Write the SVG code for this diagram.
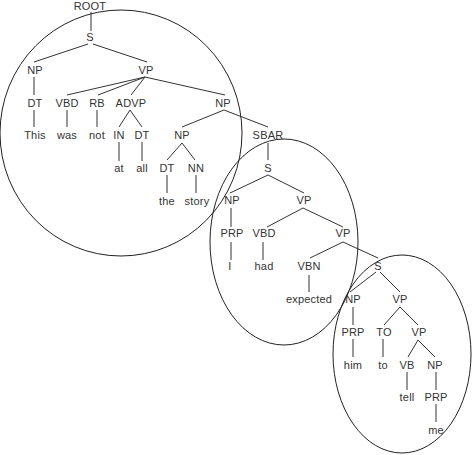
<svg xmlns="http://www.w3.org/2000/svg" width="474" height="455" viewBox="0 0 474 455">
<style>
text{font-family:"Liberation Sans",Arial,sans-serif;font-size:11px;fill:#333;text-anchor:middle;letter-spacing:0.2px}
.c line{stroke:#333;stroke-width:1}
.r ellipse{fill:none;stroke:#222;stroke-width:1}
</style>
<rect width="474" height="455" fill="#fff"/>
<g class="r" id="regions">
<ellipse cx="121" cy="133" rx="121" ry="123"/>
<ellipse cx="284" cy="242" rx="74" ry="103"/>
<ellipse cx="402" cy="354" rx="69" ry="99"/>
</g>
<g class="c" id="connectors">
<line x1="91" y1="12" x2="91" y2="31"/>
<line x1="88" y1="44" x2="34" y2="62"/>
<line x1="93" y1="44" x2="147" y2="62"/>
<line x1="34" y1="77" x2="34" y2="95"/>
<line x1="145" y1="77" x2="67" y2="95"/>
<line x1="145" y1="77" x2="98" y2="95"/>
<line x1="145" y1="77" x2="131" y2="95"/>
<line x1="145" y1="77" x2="225" y2="95"/>
<line x1="34" y1="110" x2="34" y2="127"/>
<line x1="67" y1="110" x2="67" y2="127"/>
<line x1="97" y1="110" x2="97" y2="127"/>
<line x1="130" y1="110" x2="119" y2="127"/>
<line x1="130" y1="110" x2="142" y2="127"/>
<line x1="224" y1="110" x2="182" y2="127"/>
<line x1="224" y1="110" x2="268" y2="127"/>
<line x1="119" y1="142" x2="119" y2="161"/>
<line x1="142" y1="142" x2="142" y2="161"/>
<line x1="182" y1="143" x2="167" y2="160"/>
<line x1="182" y1="143" x2="195" y2="160"/>
<line x1="268" y1="143" x2="268" y2="160"/>
<line x1="167" y1="175" x2="167" y2="193"/>
<line x1="196" y1="175" x2="196" y2="193"/>
<line x1="268" y1="175" x2="230" y2="193"/>
<line x1="268" y1="175" x2="304" y2="193"/>
<line x1="231" y1="208" x2="231" y2="227"/>
<line x1="303" y1="208" x2="267" y2="227"/>
<line x1="303" y1="208" x2="343" y2="227"/>
<line x1="231" y1="242" x2="231" y2="260"/>
<line x1="263" y1="242" x2="263" y2="260"/>
<line x1="343" y1="242" x2="310" y2="258"/>
<line x1="343" y1="242" x2="378" y2="258"/>
<line x1="309" y1="275" x2="309" y2="292"/>
<line x1="376" y1="272" x2="350" y2="292"/>
<line x1="380" y1="272" x2="400" y2="292"/>
<line x1="353" y1="307" x2="353" y2="325"/>
<line x1="400" y1="307" x2="384" y2="325"/>
<line x1="400" y1="307" x2="418" y2="325"/>
<line x1="353" y1="339" x2="353" y2="357"/>
<line x1="383" y1="339" x2="383" y2="357"/>
<line x1="418" y1="340" x2="408" y2="357"/>
<line x1="418" y1="340" x2="435" y2="357"/>
<line x1="407" y1="372" x2="407" y2="390"/>
<line x1="436" y1="372" x2="436" y2="390"/>
<line x1="436" y1="404" x2="436" y2="422"/>
</g>
<g id="n_root"><text x="90" y="9.5">ROOT</text></g>
<g id="n_s1"><text x="90" y="41">S</text></g>
<g id="n_np1"><text x="35" y="74">NP</text></g>
<g id="n_vp1"><text x="146" y="74">VP</text></g>
<g id="n_dt1"><text x="35" y="107">DT</text></g>
<g id="n_vbd1"><text x="67" y="107">VBD</text></g>
<g id="n_rb"><text x="97" y="107">RB</text></g>
<g id="n_advp"><text x="131" y="107">ADVP</text></g>
<g id="n_np2"><text x="223" y="107">NP</text></g>
<g id="w_this"><text x="35" y="139">This</text></g>
<g id="w_was"><text x="67" y="139">was</text></g>
<g id="w_not"><text x="97" y="139">not</text></g>
<g id="n_in"><text x="119" y="139">IN</text></g>
<g id="n_dt2"><text x="142" y="139">DT</text></g>
<g id="n_np3"><text x="182" y="139">NP</text></g>
<g id="n_sbar"><text x="268" y="139">SBAR</text></g>
<g id="w_at"><text x="119" y="172">at</text></g>
<g id="w_all"><text x="142" y="172">all</text></g>
<g id="n_dt3"><text x="167" y="172">DT</text></g>
<g id="n_nn"><text x="196" y="172">NN</text></g>
<g id="n_s2"><text x="268" y="172">S</text></g>
<g id="w_the"><text x="167" y="205">the</text></g>
<g id="w_story"><text x="197" y="205">story</text></g>
<g id="n_np4"><text x="232" y="204">NP</text></g>
<g id="n_vp2"><text x="304" y="204">VP</text></g>
<g id="n_prp1"><text x="232" y="237">PRP</text></g>
<g id="n_vbd2"><text x="264" y="237">VBD</text></g>
<g id="n_vp3"><text x="343" y="237">VP</text></g>
<g id="w_i"><text x="230" y="270">I</text></g>
<g id="w_had"><text x="264" y="270">had</text></g>
<g id="n_vbn"><text x="309" y="270">VBN</text></g>
<g id="n_s3"><text x="378" y="270">S</text></g>
<g id="w_expected"><text x="309" y="303">expected</text></g>
<g id="n_np5"><text x="353" y="303">NP</text></g>
<g id="n_vp4"><text x="400" y="303">VP</text></g>
<g id="n_prp2"><text x="353" y="336">PRP</text></g>
<g id="n_to"><text x="384" y="336">TO</text></g>
<g id="n_vp5"><text x="419" y="336">VP</text></g>
<g id="w_him"><text x="353" y="369">him</text></g>
<g id="w_to"><text x="383" y="369">to</text></g>
<g id="n_vb"><text x="407" y="369">VB</text></g>
<g id="n_np6"><text x="435" y="369">NP</text></g>
<g id="w_tell"><text x="407" y="401">tell</text></g>
<g id="n_prp3"><text x="436" y="401">PRP</text></g>
<g id="w_me"><text x="436" y="434">me</text></g>
</svg>
